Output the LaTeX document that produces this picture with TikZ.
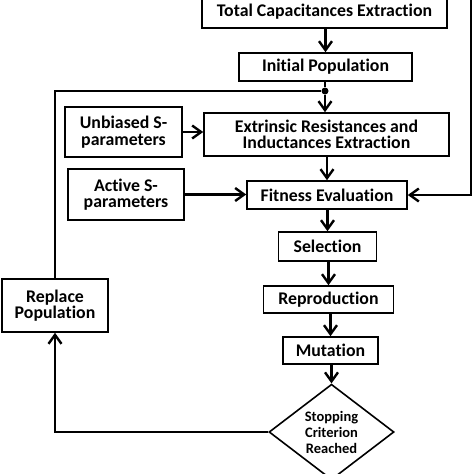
\documentclass[tikz,border=0pt]{standalone}
\usepackage{fontspec}
\setmainfont[Ligatures=NoCommon]{Carlito}
\usetikzlibrary{arrows.meta,shapes.geometric}

\begin{document}
\begin{tikzpicture}[x=1pt,y=-1pt,>={Straight Barb[length=9pt,width=13pt,line width=2.4pt]},
    blk/.style={draw,line width=1.6pt,inner sep=0pt,align=center,
      font=\fontsize{17.8}{16.5}\selectfont\bfseries},
    lnk/.style={line width=2.6pt}]
    \useasboundingbox (0,0) rectangle (474,474);
    % main column
    \node[blk,minimum width=245pt,minimum height=32pt] (total) at (324.5,12) {Total Capacitances Extraction};
    \node[blk,minimum width=173pt,minimum height=28pt] (init) at (325.5,67) {Initial Population};
    \node[blk,minimum width=245pt,minimum height=43pt] (extr) at (326.5,134.5)
      {Extrinsic Resistances and\\Inductances Extraction};
    \node[blk,minimum width=160pt,minimum height=28pt] (fit) at (327,195) {Fitness Evaluation};
    \node[blk,minimum width=98pt,minimum height=29pt] (sel) at (327.5,246.5) {Selection};
    \node[blk,minimum width=130pt,minimum height=27pt] (rep) at (328.5,299.5) {Reproduction};
    \node[blk,minimum width=95pt,minimum height=27pt] (mut) at (330.5,350.5) {Mutation};
    \node[blk,diamond,minimum width=125pt,minimum height=88pt,font=\fontsize{14.5}{16}\selectfont\bfseries]
      (stop) at (331.5,432) {Stopping\\Criterion\\Reached};
    % side inputs
    \node[blk,minimum width=117pt,minimum height=50pt] (unb) at (123.5,132) {Unbiased S-\\parameters};
    \node[blk,minimum width=116pt,minimum height=51pt] (act) at (126,194.5) {Active S-\\parameters};
    \node[blk,minimum width=106pt,minimum height=53pt] (repl) at (55,305.5) {Replace\\Population};
    \node[circle,fill,inner sep=0pt,minimum size=7pt] (jn) at (325,91) {};
    \coordinate (topr) at (471,-4);
    \coordinate (botc) at (331.5,480);

    \draw[lnk,->] (total.south -| init.north) -- (init.north);
    \draw[lnk] (init.south -| jn) -- (jn);
    \draw[lnk,->] (jn) -- (jn |- extr.north);
    \foreach \a/\b in {extr/fit,fit/sel,sel/rep,rep/mut,mut/stop} {
      \draw[lnk,->] (\a.south -| \b.north) -- (\b.north);
    }
    \draw[lnk,->] (unb.east) -- (unb.east -| extr.west);
    \draw[lnk,->] (act.east) -- (act.east -| fit.west);
    \draw[lnk,->] (topr) |- (fit.east);
    \draw[lnk,->] (stop.west) -| (repl.south);
    \draw[lnk] (repl.north) |- (jn);
    \draw[lnk] (stop.south) -- (botc);
\end{tikzpicture}
\end{document}
